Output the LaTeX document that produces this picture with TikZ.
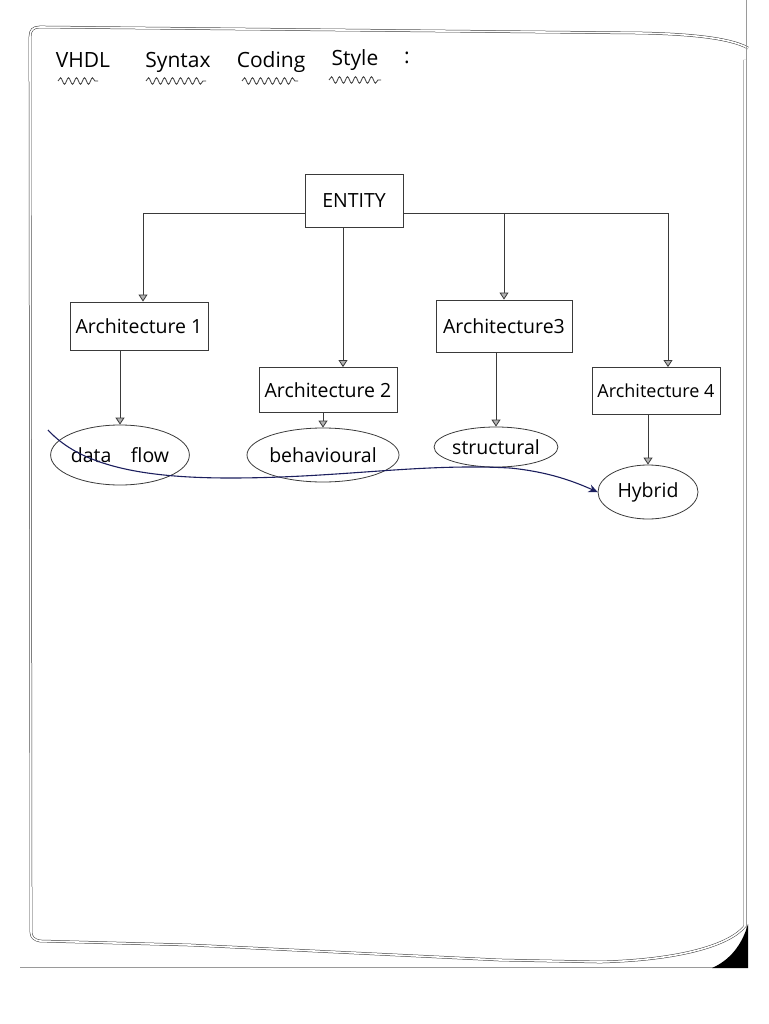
\documentclass[tikz,border=0pt]{standalone}
\usepackage{fontspec}
\setmainfont{Open Sans}
\usetikzlibrary{arrows.meta,shapes.geometric,decorations.pathmorphing}
\definecolor{pen}{HTML}{3A3A3A}
\definecolor{ink}{HTML}{1C1F5E}
\definecolor{edge}{HTML}{9A9A9A}
\tikzset{
  box/.style={draw=pen,line width=0.9pt,rectangle,inner sep=0pt,font=\fontsize{19.5}{22}\selectfont,text=black},
  oval/.style={draw=pen,line width=0.8pt,ellipse,inner sep=0pt,font=\fontsize{19.5}{22}\selectfont,text=black},
  conn/.style={draw=pen,line width=0.8pt},
  arr/.style={conn,-{Triangle[width=9pt,length=7pt,fill=gray!60]}},
  ttl/.style={font=\fontsize{21}{24}\selectfont,text=black},
  wavy/.style={draw=pen,line width=0.8pt,decorate,decoration={snake,amplitude=3.2pt,segment length=8pt}},
  frame/.style={draw=pen,double=white,double distance=1.6pt,line width=0.5pt}
}
\begin{document}
\begin{tikzpicture}[x=1pt,y=-1pt]
\useasboundingbox (0,0) rectangle (768,1024);
% page frame
\path[frame] (748,48) .. controls (730,38) and (690,34) .. (640,33)
  -- (40,27) .. controls (33,27) and (30,30) .. (30,37)
  -- (31,932) .. controls (31,937) and (34,940) .. (40,941)
  -- (190,945) -- (500,960) -- (600,962)
  .. controls (680,960) and (730,945) .. (745,926) -- (745,60);
\draw[edge,line width=0.8pt] (746,0) -- (746,967);
\draw[edge,line width=0.6pt] (20,967) -- (745,967);
\fill[black] (748,924) -- (748,968) -- (712,968) .. controls (730,960) and (742,945) .. (748,924) -- cycle;
% title
\node[ttl] (t1) at (83,60) {VHDL};
\node[ttl] (t2) at (178,62) {Syntax};
\node[ttl] (t3) at (271,62) {Coding};
\node[ttl] (t4) at (355,60) {Style};
\node[ttl] (t5) at (407,58) {:};
\draw[wavy] (58,81) -- (98,81);
\draw[wavy] (146,81) -- (206,81);
\draw[wavy] (242,81) -- (298,81);
\draw[wavy] (329,80) -- (381,80);
% boxes
\node[box,minimum width=98pt,minimum height=53pt] (E) at (354,201) {ENTITY};
\node[box,minimum width=138pt,minimum height=48pt] (A1) at (139,326) {Architecture 1};
\node[box,minimum width=138pt,minimum height=45pt] (A2) at (328,390) {Architecture 2};
\node[box,minimum width=136pt,minimum height=52pt] (A3) at (504,326) {Architecture3};
\node[box,minimum width=128pt,minimum height=47pt,font=\fontsize{18}{20}\selectfont] (A4) at (656,391) {Architecture 4};
% ovals
\node[oval,minimum width=135pt,minimum height=60pt] (DF) at (120,455) {data\quad flow};
\node[oval,minimum width=147pt,minimum height=54pt] (BH) at (323,455) {behavioural};
\node[oval,minimum width=106pt,minimum height=40pt] (ST) at (496,447) {structural};
\node[oval,minimum width=100pt,minimum height=54pt] (HY) at (648,492) {Hybrid};
% connectors from entity
\coordinate (eL) at ([yshift=-12pt]E.west);
\coordinate (eR) at ([yshift=-12pt]E.east);
\coordinate (a1t) at (143,0);
\coordinate (a4t) at (668,0);
\draw[arr] (eL) -| (a1t |- A1.north);
\draw[arr] (eR) -| (a4t |- A4.north);
\draw[arr] (eR -| A3.north) -- (A3.north);
\draw[arr] ([xshift=-11pt]E.south) -- ([xshift=-11pt]E.south |- A2.north);
% connectors to ovals
\draw[arr] (A1.south -| DF.north) -- (DF.north);
\draw[arr] (A2.south -| BH.north) -- (BH.north);
\draw[arr] (A3.south -| ST.north) -- (ST.north);
\draw[arr] (A4.south -| HY.north) -- (HY.north);
% blue stroke
\coordinate (bs) at (48,430);
\draw[ink,line width=1.1pt,-{Stealth[length=9pt,width=8pt]}] (bs)
  .. controls (80,465) and (140,478) .. (230,478)
  .. controls (340,478) and (420,463) .. (510,468)
  .. controls (550,472) and (575,482) .. (HY.west);
\end{tikzpicture}
\end{document}
